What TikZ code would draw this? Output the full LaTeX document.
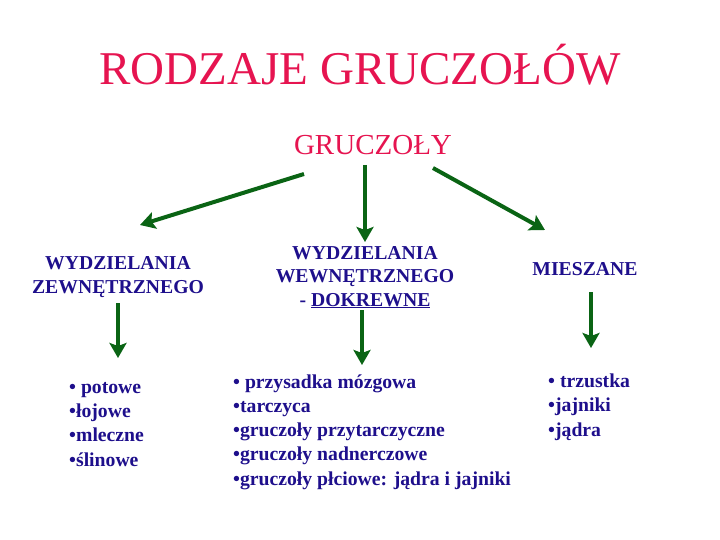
\documentclass[tikz,border=0pt]{standalone}
\usepackage{fontspec}
\setmainfont{Liberation Serif}
\usetikzlibrary{arrows.meta}
\definecolor{tred}{RGB}{230,20,80}
\definecolor{tblue}{RGB}{30,15,140}
\definecolor{tgreen}{RGB}{10,100,20}
\begin{document}
\begin{tikzpicture}[x=1pt,y=-1pt,
  head/.style={font=\fontsize{19.7}{23.5}\selectfont\bfseries, text=tblue, align=center, inner sep=0pt},
  lst/.style={font=\fontsize{19.7}{24.2}\selectfont\bfseries, text=tblue, align=left, inner sep=0pt},
  arr/.style={draw=tgreen, line width=4pt, -{Stealth[length=15pt,width=17pt,inset=3pt]}}]
\useasboundingbox[fill=white] (0,0) rectangle (720,540);
\node[anchor=base, text=tred, font=\fontsize{47}{50}\selectfont, inner sep=0pt] (title) at (360,85) {RODZAJE GRUCZOŁÓW};
\node[anchor=base, text=tred, font=\fontsize{29}{32}\selectfont, inner sep=0pt] (root) at (373,155) {GRUCZOŁY};
\node[head, anchor=base] (zew) at (118,293) {WYDZIELANIA\\ZEWNĘTRZNEGO};
\node[head, anchor=base] (wew) at (365,306) {WYDZIELANIA\\WEWNĘTRZNEGO\\- \underline{DOKREWNE}};
\node[head, anchor=base] (mie) at (585,275) {MIESZANE};
\node[lst, anchor=base west] (l1) at (69,466) {• potowe\\•łojowe\\•mleczne\\•ślinowe};
\node[lst, anchor=base west] (l2) at (233,485) {• przysadka mózgowa\\•tarczyca\\•gruczoły przytarczyczne\\•gruczoły nadnerczowe\\•gruczoły płciowe: jądra i jajniki};
\node[lst, anchor=base west] (l3) at (548,436) {• trzustka\\•jajniki\\•jądra};
\coordinate (aL0) at (304,174);
\coordinate (aL1) at (140,225);
\coordinate (aM0) at (365,165);
\coordinate (aM1) at (365,242);
\coordinate (aR0) at (433,168);
\coordinate (aR1) at (545,230);
\coordinate (bL0) at (118,303);
\coordinate (bL1) at (118,358);
\coordinate (bM0) at (362,310);
\coordinate (bM1) at (362,365);
\coordinate (bR0) at (591,292);
\coordinate (bR1) at (591,348);
\draw[arr] (aL0) -- (aL1);
\draw[arr] (aM0) -- (aM1);
\draw[arr] (aR0) -- (aR1);
\draw[arr] (bL0) -- (bL1);
\draw[arr] (bM0) -- (bM1);
\draw[arr] (bR0) -- (bR1);
\end{tikzpicture}
\end{document}
